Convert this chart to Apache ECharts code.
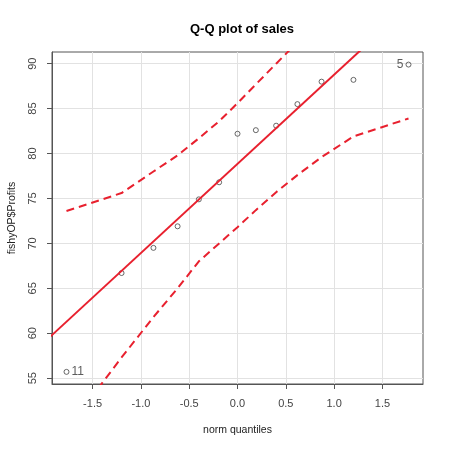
<!DOCTYPE html>
<html>
<head>
<meta charset="utf-8">
<title>Q-Q plot of sales</title>
<script src="https://cdn.jsdelivr.net/npm/echarts@6/dist/echarts.min.js"></script>
<style>
  html, body { margin: 0; padding: 0; background: #fff; }
  #chart { width: 450px; height: 450px; }
</style>
</head>
<body>
<div id="chart"></div>
<script>
// normal quantiles (x) and sorted profits (y)
var normQ = [-1.77, -1.20, -0.87, -0.62, -0.40, -0.19, 0, 0.19, 0.40, 0.62, 0.87, 1.20, 1.77];
var profits = [55.7, 66.7, 69.5, 71.9, 74.9, 76.8, 82.2, 82.6, 83.1, 85.5, 88.0, 88.2, 89.9];
var pointIds = ['11', '', '', '', '', '', '', '', '', '', '', '', '5'];

// confidence envelope
var upperBand = [73.6, 75.6, 78.0, 79.8, 81.7, 83.6, 85.6, 87.7, 90.0, 92.4, 94.9, 99.6, 108.9];
var lowerBand = [49.2, 57.3, 61.8, 65.0, 68.0, 70.0, 71.8, 73.7, 75.7, 77.6, 79.6, 81.9, 83.9];

// reference line ends
var lineX = [-2, 2];
var lineY = [59.0, 98.7];

var xTicks = [-1.5, -1.0, -0.5, 0, 0.5, 1.0, 1.5];
var yTicks = [55, 60, 65, 70, 75, 80, 85, 90];

var red = '#e8202e';
var font = 'Liberation Sans, Arial, sans-serif';

function pairs(xs, ys) {
	var out = [];
	for (var i = 0; i < xs.length; i++) {
		out.push([xs[i], ys[i]]);
	}
	return out;
}

var pts = [];
for (var i = 0; i < normQ.length; i++) {
	pts.push({
		value: [normQ[i], profits[i]],
		name: pointIds[i],
		label: { position: normQ[i] < 0 ? 'right' : 'left' }
	});
}

var myChart = echarts.init(document.getElementById('chart'));
myChart.setOption({
	animation: false,
	backgroundColor: '#fff',
	title: {
		text: 'Q-Q plot of sales',
		left: 237,
		top: 18,
		textAlign: 'center',
		textStyle: { fontFamily: font, fontSize: 13, fontWeight: 'bold', color: '#000' }
	},
	grid: {
		left: 52, right: 27, top: 52, bottom: 66,
		outerBoundsMode: 'none',
		show: true,
		borderColor: '#555',
		borderWidth: 1
	},
	xAxis: {
		type: 'value',
		min: -1.92,
		max: 1.92,
		name: 'norm quantiles',
		nameLocation: 'middle',
		nameGap: 41,
		nameTextStyle: { fontFamily: font, fontSize: 10.5, color: '#222' },
		axisLine: { show: true, onZero: false, lineStyle: { color: '#555' } },
		axisTick: { show: true, length: 5, customValues: xTicks, lineStyle: { color: '#555' } },
		axisLabel: {
			customValues: xTicks,
			margin: 14,
			fontFamily: font, fontSize: 11, color: '#444',
			formatter: function (v) { return v.toFixed(1); }
		},
		splitLine: { show: true, lineStyle: { color: '#e2e2e2', width: 1 } }
	},
	yAxis: {
		type: 'value',
		min: 54.35,
		max: 91.3,
		name: 'fishyOP$Profits',
		nameLocation: 'middle',
		nameGap: 34,
		nameTextStyle: { fontFamily: font, fontSize: 10.5, color: '#222' },
		axisLine: { show: true, onZero: false, lineStyle: { color: '#555' } },
		axisTick: { show: true, length: 5, customValues: yTicks, lineStyle: { color: '#555' } },
		axisLabel: {
			customValues: yTicks,
			rotate: 90,
			margin: 14,
			fontFamily: font, fontSize: 11, color: '#444'
		},
		splitLine: { show: true, lineStyle: { color: '#e2e2e2', width: 1 } }
	},
	series: [
		{
			type: 'line',
			data: pairs(lineX, lineY),
			symbol: 'none',
			clip: true,
			lineStyle: { color: red, width: 2 }
		},
		{
			type: 'line',
			data: pairs(normQ, upperBand),
			symbol: 'none',
			clip: true,
			lineStyle: { color: red, width: 2, type: [8, 5] }
		},
		{
			type: 'line',
			data: pairs(normQ, lowerBand),
			symbol: 'none',
			clip: true,
			lineStyle: { color: red, width: 2, type: [8, 5] }
		},
		{
			type: 'scatter',
			data: pts,
			symbol: 'circle',
			symbolSize: 5,
			itemStyle: { color: 'transparent', borderColor: '#444', borderWidth: 1 },
			label: {
				show: true,
				distance: 2,
				formatter: '{b}',
				fontFamily: font, fontSize: 12, color: '#333'
			}
		}
	]
});
</script>
</body>
</html>
